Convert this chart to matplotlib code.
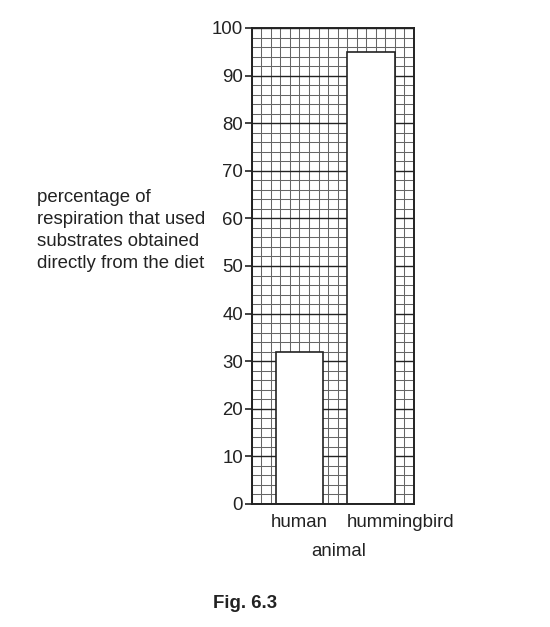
import matplotlib
matplotlib.use("Agg")
import matplotlib.pyplot as plt
import numpy as np

categories = ["human", "hummingbird"]
values = [32, 95]
y_ticks = [0, 10, 20, 30, 40, 50, 60, 70, 80, 90, 100]
ylabel_text = "percentage of\nrespiration that used\nsubstrates obtained\ndirectly from the diet"
xlabel_text = "animal"
caption = "Fig. 6.3"

plt.rcParams['font.family'] = ['Liberation Sans', 'DejaVu Sans']
FS = 13.4

W, H = 550, 627
fig = plt.figure(figsize=(W / 100, H / 100), dpi=100)
left, right, top, bottom = 251.7, 414.0, 28.0, 504.0
ax = fig.add_axes([left / W, 1 - bottom / H, (right - left) / W, (bottom - top) / H])

ncells = 17
ax.set_xlim(0, ncells)
ax.set_ylim(0, 100)

# graph-paper grid
for x in range(0, ncells + 1):
    ax.axvline(x, color='#666666', lw=0.75, zorder=1)
for y in np.arange(0, 101, 2):
    major = (y % 10 == 0)
    ax.axhline(y, color='#222222' if major else '#666666', lw=1.0 if major else 0.75, zorder=1)

# bars (layout positions in grid cells)
bar_left = [2.5, 10.0]
bar_width = 5.0
for xl, v in zip(bar_left, values):
    ax.bar(xl, v, width=bar_width, align='edge', facecolor='white',
           edgecolor='#222222', linewidth=1.2, zorder=3)

ax.set_yticks(y_ticks)
ax.set_yticklabels([str(t) for t in y_ticks], fontsize=FS, color='#222222')
ax.tick_params(axis='y', direction='out', length=4.8, width=1.2, pad=1.5, color='#222222')
ax.set_xticks([])
for s in ax.spines.values():
    s.set_linewidth(1.4)
    s.set_color('#222222')
    s.set_zorder(4)

# category labels
ax.text(bar_left[0] + bar_width / 2, -2.0, categories[0], ha='center', va='top',
        fontsize=FS, color='#222222')
ax.text(bar_left[1] - 0.05, -2.0, categories[1], ha='left', va='top',
        fontsize=FS, color='#222222')

fig.text(338.5 / W, 1 - 552 / H, xlabel_text, ha='center', va='center',
         fontsize=FS, color='#222222')
fig.text(36.7 / W, 1 - 230.5 / H, ylabel_text, ha='left', va='center',
         fontsize=FS, color='#222222', linespacing=1.38, multialignment='left')
fig.text(245 / W, 1 - 603 / H, caption, ha='center', va='center',
         fontsize=FS, fontweight='bold', color='#222222')

fig.savefig("out.png", dpi=100, facecolor='white')
